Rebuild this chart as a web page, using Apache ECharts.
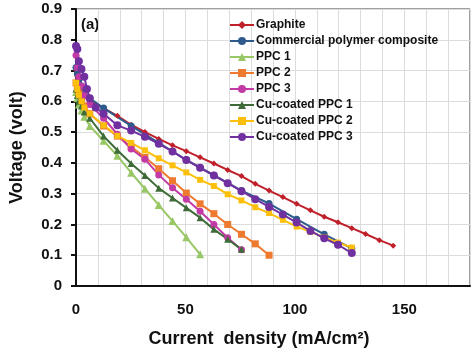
<!DOCTYPE html>
<html>
<head>
<meta charset="utf-8">
<script src="https://cdn.jsdelivr.net/npm/echarts@6/dist/echarts.min.js"></script>
<style>
  html, body { margin: 0; padding: 0; background: #fff; }
  #chart { width: 474px; height: 353px; }
</style>
</head>
<body>
<div id="chart"></div>
<script>
// [current density, voltage] pairs
const graphite = [[0,0.70],[0.6,0.68],[1.3,0.66],[2.5,0.64],[3.8,0.62],[6.3,0.60],[12.6,0.578],[18.9,0.553],[25.2,0.524],[31.5,0.50],[37.8,0.478],[44.1,0.457],[50.4,0.438],[56.7,0.418],[63,0.398],[69.3,0.377],[75.6,0.357],[81.9,0.332],[88.2,0.310],[94.5,0.289],[100.8,0.267],[107.1,0.246],[113.4,0.225],[119.7,0.207],[126,0.188],[132.3,0.169],[138.6,0.149],[144.9,0.131]]
const commercial = [[0,0.71],[0.6,0.69],[1.3,0.67],[2.5,0.65],[3.8,0.63],[6.3,0.61],[12.6,0.578],[25.2,0.52],[37.8,0.465],[50.4,0.41],[63,0.36],[75.6,0.31],[88.2,0.268],[100.8,0.217],[113.4,0.168],[126,0.122]]
const ppc1 = [[0,0.63],[0.6,0.61],[1.3,0.59],[2.5,0.57],[3.8,0.55],[6.3,0.52],[12.6,0.472],[18.9,0.423],[25.2,0.368],[31.5,0.316],[37.8,0.263],[44.1,0.211],[50.4,0.158],[56.7,0.103]]
const ppc2 = [[0,0.66],[0.6,0.64],[1.3,0.625],[2.5,0.605],[3.8,0.585],[6.3,0.56],[12.6,0.52],[18.9,0.487],[25.2,0.452],[31.5,0.418],[37.8,0.381],[44.1,0.342],[50.4,0.302],[56.7,0.267],[63,0.235],[69.3,0.20],[75.6,0.168],[81.9,0.137],[88.2,0.10]]
const ppc3 = [[0,0.75],[0.6,0.71],[1.3,0.68],[2.5,0.65],[3.8,0.62],[6.3,0.59],[12.6,0.545],[18.9,0.493],[25.2,0.445],[31.5,0.412],[37.8,0.361],[44.1,0.319],[50.4,0.282],[56.7,0.243],[63,0.20],[69.3,0.157],[75.6,0.118]]
const cuPpc1 = [[0,0.64],[0.6,0.62],[1.3,0.60],[2.5,0.585],[3.8,0.565],[6.3,0.545],[12.6,0.487],[18.9,0.441],[25.2,0.398],[31.5,0.359],[37.8,0.318],[44.1,0.286],[50.4,0.254],[56.7,0.222],[63,0.184],[69.3,0.152],[75.6,0.119]]
const cuPpc2 = [[0,0.66],[0.6,0.64],[1.3,0.62],[2.5,0.60],[3.8,0.58],[6.3,0.56],[12.6,0.522],[18.9,0.488],[25.2,0.465],[31.5,0.441],[37.8,0.415],[44.1,0.392],[50.4,0.369],[56.7,0.345],[63,0.325],[69.3,0.298],[75.6,0.278],[81.9,0.256],[88.2,0.237],[94.5,0.215],[100.8,0.193],[107.1,0.176],[113.4,0.158],[119.7,0.141],[126,0.125]]
const cuPpc3 = [[0,0.78],[0.6,0.77],[1.3,0.73],[2.5,0.705],[3.8,0.68],[5,0.64],[6.3,0.61],[9,0.58],[12.6,0.56],[18.9,0.522],[25.2,0.505],[31.5,0.485],[37.8,0.462],[44.1,0.437],[50.4,0.409],[56.7,0.384],[63,0.359],[69.3,0.334],[75.6,0.308],[81.9,0.282],[88.2,0.257],[94.5,0.232],[100.8,0.206],[107.1,0.179],[113.4,0.155],[119.7,0.134],[126,0.107]]

const xLabelValues = [0, 50, 100, 150]

const font = 'Liberation Sans'

const mkSeries = (name, data, color, symbol, size) => ({
  name,
  type: 'line',
  data,
  symbol,
  symbolSize: size,
  showSymbol: true,
  lineStyle: { color, width: 2 },
  itemStyle: { color },
  emphasis: { disabled: true },
  z: 3
})

const chart = echarts.init(document.getElementById('chart'))
chart.setOption({
  animation: false,
  textStyle: { fontFamily: font },
  grid: {
    left: 70, right: 4, top: 9, bottom: 64,
    show: true, borderColor: '#404040', borderWidth: 1,
    containLabel: false
  },
  legend: {
    orient: 'vertical',
    left: 224, top: 14,
    itemWidth: 24, itemHeight: 10, itemGap: 4,
    textStyle: { fontSize: 12, fontWeight: 'bold', color: '#111', fontFamily: font, padding: [0, 0, 0, -3] },
    data: ['Graphite', 'Commercial polymer composite', 'PPC 1', 'PPC 2', 'PPC 3', 'Cu-coated PPC 1', 'Cu-coated PPC 2', 'Cu-coated PPC 3']
  },
  graphic: [{
    type: 'text', left: 81, top: 17,
    style: { text: '(a)', fontSize: 15, fontWeight: 'bold', fill: '#111', fontFamily: font }
  }],
  xAxis: {
    type: 'value',
    min: 0, max: 180, interval: 10,
    name: 'Current  density (mA/cm²)',
    nameLocation: 'middle', nameGap: 44,
    nameTextStyle: { fontSize: 18, fontWeight: 'bold', color: '#111', padding: [0, 28, 0, 0] },
    axisLine: { lineStyle: { color: '#111', width: 2 } },
    axisTick: { show: false },
    axisLabel: { fontSize: 15, fontWeight: 'bold', color: '#111', margin: 16, customValues: xLabelValues },
    splitLine: { show: true, lineStyle: { color: '#dcdcdc', width: 1 } }
  },
  yAxis: {
    type: 'value',
    min: 0, max: 0.9, interval: 0.1,
    name: 'Voltage (volt)',
    nameLocation: 'middle', nameGap: 50,
    nameTextStyle: { fontSize: 18, fontWeight: 'bold', color: '#111' },
    axisLine: { show: true, lineStyle: { color: '#111', width: 2 } },
    axisTick: { show: true, length: 5, lineStyle: { color: '#111', width: 2 } },
    axisLabel: { fontSize: 15, fontWeight: 'bold', color: '#111', margin: 14,
      formatter: v => v === 0 ? '0' : v.toFixed(1) },
    splitLine: { show: true, lineStyle: { color: '#dcdcdc', width: 1 } }
  },
  series: [
    mkSeries('Graphite', graphite, '#C0202A', 'diamond', 6),
    mkSeries('Commercial polymer composite', commercial, '#2F5B8C', 'circle', 7),
    mkSeries('PPC 1', ppc1, '#98C765', 'triangle', 8),
    mkSeries('PPC 2', ppc2, '#EE7A30', 'rect', 7),
    mkSeries('PPC 3', ppc3, '#C23AA6', 'circle', 7),
    mkSeries('Cu-coated PPC 1', cuPpc1, '#3E6B38', 'triangle', 7),
    mkSeries('Cu-coated PPC 2', cuPpc2, '#FCC00C', 'rect', 6),
    mkSeries('Cu-coated PPC 3', cuPpc3, '#7030A0', 'circle', 8)
  ]
})
window.addEventListener('resize', () => chart.resize())
</script>
</body>
</html>
